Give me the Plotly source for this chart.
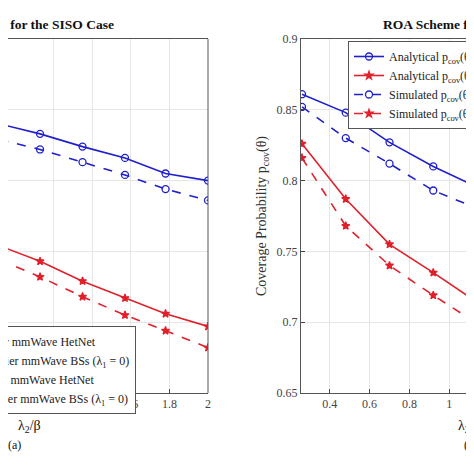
import plotly.graph_objects as go

# left panel (a): visible part
xa = [0.92, 1.13, 1.35, 1.57, 1.78, 2.0]
a_blue_ana = [0.840, 0.833, 0.824, 0.816, 0.805, 0.800]
a_blue_sim = [0.829, 0.822, 0.813, 0.804, 0.794, 0.786]
a_red_ana = [0.754, 0.743, 0.729, 0.717, 0.706, 0.697]
a_red_sim = [0.744, 0.732, 0.718, 0.705, 0.694, 0.682]
# right panel (b): visible part
xb = [0.26, 0.48, 0.70, 0.92, 1.13]
b_blue_ana = [0.861, 0.848, 0.827, 0.810, 0.796]
b_blue_sim = [0.852, 0.830, 0.812, 0.793, 0.781]
b_red_ana = [0.826, 0.787, 0.755, 0.735, 0.715]
b_red_sim = [0.816, 0.768, 0.740, 0.719, 0.700]

names = ["Analytical p<sub>cov</sub>(θ) for Two-tier mmWave HetNet",
         "Analytical p<sub>cov</sub>(θ) for Single-tier mmWave BSs (λ<sub>1</sub> = 0)",
         "Simulated p<sub>cov</sub>(θ) for Two-tier mmWave HetNet",
         "Simulated p<sub>cov</sub>(θ) for Single-tier mmWave BSs (λ<sub>1</sub> = 0)"]
BLUE, RED = "#1f1fcc", "#e0202a"
FONT = "Liberation Serif"
W = 474
OFF = 7
def px(v):
    return (v - OFF) / W
def py(v):
    return 1 - (v - OFF) / W

fig = go.Figure()
def add(x, y, color, dash, sym, name, xa_, ya_, leg):
    fig.add_trace(go.Scatter(
        x=x, y=y, mode="lines+markers", name=name, xaxis=xa_, yaxis=ya_, legend=leg,
        line=dict(color=color, width=1.6, dash=dash),
        marker=dict(symbol=sym, size=7 if "circle" in sym else 6, color=color,
                    line=dict(color=color, width=1.3))))

series = [(BLUE, "solid", "circle-open"), (RED, "solid", "star"),
          (BLUE, "dash", "circle-open"), (RED, "dash", "star")]
for (c, d, s), y, n in zip(series, [a_blue_ana, a_red_ana, a_blue_sim, a_red_sim], names):
    add(xa, y, c, d, s, n, "x", "y", "legend")
for (c, d, s), y, n in zip(series, [b_blue_ana, b_red_ana, b_blue_sim, b_red_sim], names):
    add(xb, y, c, d, s, n, "x2", "y2", "legend2")

ydom = [py(392), py(38)]
grid = "#e6e6e6"
tickf = dict(family=FONT, size=12, color="#444")
legfont = dict(family=FONT, size=12, color="#222")
fig.update_layout(
    width=W, height=W, margin=dict(l=0, r=0, t=0, b=0, autoexpand=False),
    paper_bgcolor="white", plot_bgcolor="white",
    font=dict(family=FONT, color="#222"),
    xaxis=dict(domain=[0, px(207)], range=[0.998 - 7 / 206, 2.0], tickvals=[1.2, 1.4, 1.6, 1.8, 2],
               ticktext=["1.2", "1.4", "1.6", "1.8", "2"], showgrid=True, gridcolor=grid,
               showline=True, linecolor="#555", mirror=True, ticks="inside", ticklen=4,
               tickfont=tickf, zeroline=False),
    yaxis=dict(domain=ydom, range=[0.65, 0.9], dtick=0.05, showgrid=True, gridcolor=grid,
               showticklabels=False, showline=False, zeroline=False, anchor="x"),
    xaxis2=dict(domain=[px(300), 1.0], range=[0.255, 1.13 + 7 / 200], tickvals=[0.4, 0.6, 0.8, 1],
                ticktext=["0.4", "0.6", "0.8", "1"], showgrid=True, gridcolor=grid,
                showline=True, linecolor="#555", mirror=True, ticks="inside", ticklen=4,
                tickfont=tickf, zeroline=False, anchor="y2"),
    yaxis2=dict(domain=ydom, range=[0.65, 0.9], tickvals=[0.65, 0.7, 0.75, 0.8, 0.85, 0.9],
                ticktext=["0.65", "0.7", "0.75", "0.8", "0.85", "0.9"], showgrid=True,
                gridcolor=grid, showline=True, linecolor="#555", mirror=True, ticks="inside",
                ticklen=4, tickfont=tickf, zeroline=False, anchor="x2",
                title=dict(text="Coverage Probability p<sub>cov</sub>(θ)",
                           font=dict(family=FONT, size=14, color="#333"), standoff=6)),
    legend=dict(x=px(135), xanchor="right", y=py(325), yanchor="top",
                bgcolor="white", bordercolor="#555", borderwidth=1,
                font=legfont, tracegroupgap=0, itemwidth=30),
    legend2=dict(x=px(347), xanchor="left", y=py(40), yanchor="top",
                 bgcolor="white", bordercolor="#555", borderwidth=1,
                 font=legfont, tracegroupgap=0, itemwidth=30),
    showlegend=True,
)
fig.add_shape(type="line", xref="paper", yref="paper", x0=px(207), x1=px(207),
              y0=ydom[0], y1=ydom[1], line=dict(color="#555", width=1))
ann = [
    dict(text="<b>ROA Scheme for the SISO Case</b>", x=px(115), xanchor="right", y=py(23), size=13.5),
    dict(text="<b>ROA Scheme for the MIMO Case</b>", x=px(380), xanchor="left", y=py(23), size=13.5),
    dict(text="λ<sub>2</sub>/β", x=px(28), xanchor="center", y=py(425), size=14),
    dict(text="λ<sub>2</sub>/β", x=px(468), xanchor="center", y=py(425), size=14),
    dict(text="(a)", x=px(13), xanchor="center", y=py(444), size=12),
    dict(text="(b)", x=px(470), xanchor="center", y=py(444), size=12),
]
for a in ann:
    fig.add_annotation(text=a["text"], x=a["x"], y=a["y"], xref="paper", yref="paper",
                       xanchor=a["xanchor"], yanchor="middle", showarrow=False,
                       font=dict(family=FONT, size=a["size"], color="#111"))
fig.write_html("out.html")
